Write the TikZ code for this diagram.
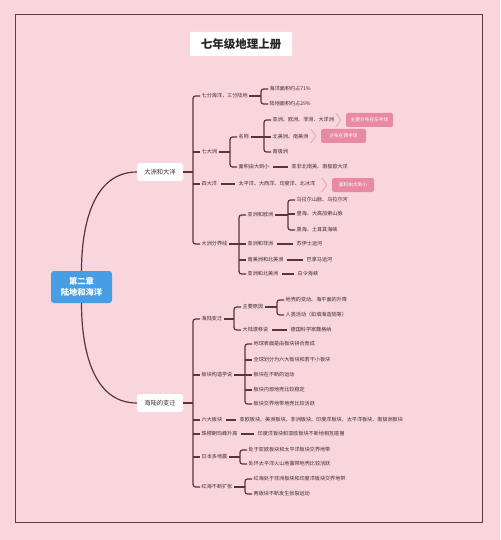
\documentclass[tikz,border=0pt]{standalone}
\usepackage{fontspec}
\setmainfont{Noto Sans CJK SC}
\usetikzlibrary{calc}
\definecolor{bgpink}{RGB}{249,213,220}
\definecolor{framec}{RGB}{95,62,66}
\definecolor{linec}{RGB}{88,54,58}
\definecolor{textc}{RGB}{60,46,50}
\definecolor{rootc}{RGB}{72,158,228}
\definecolor{tagc}{RGB}{232,138,162}
\definecolor{chevc}{RGB}{222,168,184}
\newcommand\brkt[3]{%
  \coordinate (bx) at ($(#2.west)+(-7,0)$);
  \draw[conn] (#1.east) -- (bx |- #1.east);
  \draw[conn,rounded corners=2.5pt] (#2.west) -- (bx |- #2.west) -- (bx |- #3.west) -- (#3.west);}
\newcommand\brkm[1]{\foreach \m in {#1}{\draw[conn] (bx |- \m.west) -- (\m.west);}}
\newcommand\onel[2]{\draw[conn] ($(#1.east)+(2,0)$) -- ($(#2.west)+(-2,0)$);}
\newcommand\chevr[1]{\draw[chev] ($(#1.west)+(-10,-7)$) -- ($(#1.west)+(-5,0)$) -- ($(#1.west)+(-10,7)$);}
\begin{document}
\begin{tikzpicture}[x=1pt,y=-1pt,
  conn/.style={draw=linec,line width=1.2pt},
  leaf/.style={anchor=west,inner xsep=1.5pt,inner ysep=1pt,text=textc,font=\fontsize{5.1}{6}\selectfont},
  l1box/.style={fill=white,rounded corners=2.5pt,minimum width=46pt,minimum height=18pt,inner sep=0pt,text=textc,font=\fontsize{6.3}{7}\selectfont},
  rootbox/.style={fill=rootc,rounded corners=3pt,minimum width=61pt,minimum height=32pt,inner sep=0pt,text=white,align=center,font=\fontsize{8.3}{11}\selectfont\bfseries},
  titlebox/.style={fill=white,rounded corners=1pt,minimum width=102pt,minimum height=24pt,inner sep=0pt,text=black!85,font=\fontsize{11.5}{13}\selectfont\bfseries},
  tag/.style={fill=tagc,rounded corners=2pt,text=white,minimum height=14pt,inner sep=0pt,font=\fontsize{4.7}{5}\selectfont},
  chev/.style={draw=chevc,line width=0.8pt,line join=round}]
\useasboundingbox (0,0) rectangle (500,540);
\fill[bgpink] (0,0) rectangle (500,540);
\draw[framec,line width=0.7pt] (15,14) rectangle (482,522);

\node[titlebox] (T) at (241,44) {七年级地理上册};
\node[rootbox] (R) at (81.5,287) {第二章\\陆地和海洋};
\node[l1box] (A) at (160,172) {大洲和大洋};
\node[l1box] (B) at (160,403) {海陆的变迁};
\draw[conn] (R.north) to[out=90,in=180] (A.west);
\draw[conn] (R.south) to[out=-90,in=180] (B.west);

% ---- 大洲和大洋
\node[leaf] (a1) at (200,96) {七分海洋，三分陆地};
\node[leaf] (a2) at (200,152) {七大洲};
\node[leaf] (a3) at (200,184) {四大洋};
\node[leaf] (a4) at (200,244) {大洲分界线};
\brkt{A}{a1}{a4}\brkm{a2,a3}

\node[leaf] (a11) at (268,89) {海洋面积约占71\%};
\node[leaf] (a12) at (268,104) {陆地面积约占29\%};
\brkt{a1}{a11}{a12}

\node[leaf] (a21) at (237,137) {名称};
\node[leaf] (a22) at (237,167) {面积由大到小};
\brkt{a2}{a21}{a22}

\node[leaf] (a211) at (271,120) {亚洲、欧洲、非洲、大洋洲};
\node[leaf] (a212) at (271,137) {北美洲、南美洲};
\node[leaf] (a213) at (271,152) {南极洲};
\brkt{a21}{a211}{a213}\brkm{a212}

\node[leaf] (a221) at (290,167) {亚非北南美、南极欧大洋};
\onel{a22}{a221}

\node[leaf] (a31) at (237,184) {太平洋、大西洋、印度洋、北冰洋};
\onel{a3}{a31}

\node[tag,minimum width=47pt] (g1) at (369.5,120) {主要分布在东半球};
\node[tag,minimum width=45pt] (g2) at (343.5,136) {分布在西半球};
\node[tag,minimum width=42pt] (g3) at (353,185) {面积由大到小};
\chevr{g1}\chevr{g2}\chevr{g3}

\node[leaf] (a41) at (246,215) {亚洲和欧洲};
\node[leaf] (a42) at (246,244) {亚洲和非洲};
\node[leaf] (a43) at (246,260) {南美洲和北美洲};
\node[leaf] (a44) at (246,274) {亚洲和北美洲};
\brkt{a4}{a41}{a44}\brkm{a42,a43}

\node[leaf] (a411) at (295,200) {乌拉尔山脉、乌拉尔河};
\node[leaf] (a412) at (295,214) {里海、大高加索山脉};
\node[leaf] (a413) at (295,230) {黑海、土耳其海峡};
\brkt{a41}{a411}{a413}\brkm{a412}

\node[leaf] (a421) at (295,244) {苏伊士运河};
\onel{a42}{a421}
\node[leaf] (a431) at (305,260) {巴拿马运河};
\onel{a43}{a431}
\node[leaf] (a441) at (296,274) {白令海峡};
\onel{a44}{a441}

% ---- 海陆的变迁
\node[leaf] (b1) at (200,319) {海陆变迁};
\node[leaf] (b2) at (200,375) {板块构造学说};
\node[leaf] (b3) at (200,420) {六大板块};
\node[leaf] (b4) at (200,434) {珠穆朗玛峰升高};
\node[leaf] (b5) at (200,457) {日本多地震};
\node[leaf] (b6) at (200,487) {红海不断扩张};
\brkt{B}{b1}{b6}\brkm{b2,b3,b4,b5}

\node[leaf] (b11) at (241,307) {主要原因};
\node[leaf] (b12) at (241,330) {大陆漂移说};
\brkt{b1}{b11}{b12}

\node[leaf] (b111) at (284,300) {地壳的变动、海平面的升降};
\node[leaf] (b112) at (284,315) {人类活动（如填海造陆等）};
\brkt{b11}{b111}{b112}

\node[leaf] (b121) at (289,330) {德国科学家魏格纳};
\onel{b12}{b121}

\node[leaf] (b21) at (252,344) {地球表面是由板块拼合而成};
\node[leaf] (b22) at (252,360) {全球划分为六大板块和若干小板块};
\node[leaf] (b23) at (252,375) {板块在不断的运动};
\node[leaf] (b24) at (252,390) {板块内部地壳比较稳定};
\node[leaf] (b25) at (252,404) {板块交界地带地壳比较活跃};
\brkt{b2}{b21}{b25}\brkm{b22,b23,b24}

\node[leaf] (b31) at (238,420) {亚欧板块、美洲板块、非洲板块、印度洋板块、太平洋板块、南极洲板块};
\onel{b3}{b31}

\node[leaf] (b41) at (256,434) {印度洋板块和亚欧板块不断地相互碰撞};
\onel{b4}{b41}

\node[leaf] (b51) at (247,450) {处于亚欧板块和太平洋板块交界地带};
\node[leaf] (b52) at (247,464) {处环太平洋火山地震带地壳比较活跃};
\brkt{b5}{b51}{b52}

\node[leaf] (b61) at (252,479) {红海处于非洲板块和印度洋板块交界地带};
\node[leaf] (b62) at (252,494) {两板块不断发生张裂运动};
\brkt{b6}{b61}{b62}
\end{tikzpicture}
\end{document}
